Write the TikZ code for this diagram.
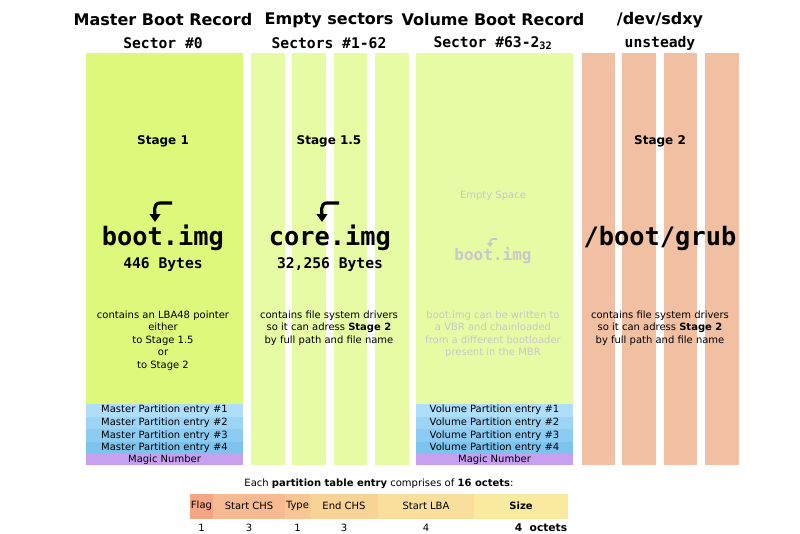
\documentclass[tikz,border=0pt]{standalone}
\usepackage{fontspec}
\setmainfont{DejaVu Sans}
\setmonofont{DejaVu Sans Mono}
\usetikzlibrary{arrows.meta,positioning}
\definecolor{mbrgreen}{RGB}{221,248,122}
\definecolor{lightgreen}{RGB}{231,251,165}
\definecolor{stagetwo}{RGB}{241,192,162}
\definecolor{pentA}{RGB}{174,222,250}
\definecolor{pentB}{RGB}{156,212,246}
\definecolor{pentC}{RGB}{140,204,242}
\definecolor{pentD}{RGB}{124,196,238}
\definecolor{magic}{RGB}{200,160,240}
\definecolor{fadetext}{RGB}{200,200,200}
\tikzset{
  head/.style={font=\fontsize{12}{14}\selectfont\bfseries},
  sector/.style={font=\ttfamily\fontsize{11}{13}\selectfont\bfseries},
  stage/.style={font=\fontsize{9}{11}\selectfont\bfseries},
  img/.style={font=\ttfamily\fontsize{19}{23}\selectfont\bfseries},
  bytes/.style={font=\ttfamily\fontsize{11}{13}\selectfont\bfseries},
  desc/.style={font=\fontsize{7.5}{9.4}\selectfont, align=center},
  entry/.style={font=\fontsize{7.5}{9}\selectfont},
  field/.style={font=\fontsize{7.5}{9}\selectfont},
  hook/.style={line width=2.4pt, -{Triangle[length=6pt,width=8pt]}},
}
\begin{document}
\begin{tikzpicture}[x=0.75pt,y=-0.75pt]
  \useasboundingbox (0,0) rectangle (800,533);
  % columns
  \fill[mbrgreen] (86,53) rectangle (243,404);
  \foreach \xa/\xb in {251/285,292/326,334/367,375/409}
    \fill[lightgreen] (\xa,53) rectangle (\xb,465);
  \fill[lightgreen] (416,53) rectangle (573,404);
  \foreach \xa/\xb in {582/615,622/656,664/697,705/739}
    \fill[stagetwo] (\xa,53) rectangle (\xb,465);
  % partition entries
  \foreach \x/\name in {86/Master,416/Volume}{
    \fill[pentA] (\x,404) rectangle ++(157,12.5);
    \fill[pentB] (\x,416.5) rectangle ++(157,12.5);
    \fill[pentC] (\x,429) rectangle ++(157,12.5);
    \fill[pentD] (\x,441.5) rectangle ++(157,12.5);
    \fill[magic] (\x,454) rectangle ++(157,11);
    \foreach \i/\y in {1/410,2/423,3/435.5,4/448}
      \node[entry] at (\x+78.5,\y) {\name\ Partition entry \#\i};
    \node[entry] at (\x+78.5,459.5) {Magic Number};
  }
  % headers
  \node[head] (mbr) at (163,20) {Master Boot Record};
  \node[sector] (mbrs) at (163,43) {Sector \#0};
  \node[head] (emp) at (329,20) {Empty sectors};
  \node[sector] (emps) at (329,43) {Sectors \#1-62};
  \node[head] (vbr) at (493,20) {Volume Boot Record};
  \node[sector] (vbrs) at (493,43) {Sector \#63-2\textsubscript{32}};
  \node[head] (dev) at (660,20) {/dev/sdxy};
  \node[sector] (devs) at (660,43) {unsteady};
  % stage 1
  \node[stage] (s1) at (163,141) {Stage 1};
  \node[img] (bootimg) at (163,238) {boot.img};
  \node[bytes] (bootb) at (163,265) {446 Bytes};
  \node[desc, anchor=north] (bootd) at (163,306) {contains an LBA48 pointer\\either\\to Stage 1.5\\or\\to Stage 2};
  \draw[hook] (172,203) -- (160,203) to[out=180,in=90] (155,222);
  % stage 1.5
  \node[stage] (s15) at (329,141) {Stage 1.5};
  \node[img] (coreimg) at (330,238) {core.img};
  \node[bytes] (coreb) at (330,265) {32,256 Bytes};
  \node[desc, anchor=north] (cored) at (329,306) {contains file system drivers\\so it can adress \textbf{Stage 2}\\by full path and file name};
  \draw[hook] (339,203) -- (327,203) to[out=180,in=90] (322,222);
  % vbr
  \node[desc, text=fadetext] (empty) at (493,196) {Empty Space};
  \node[font=\ttfamily\fontsize{12}{14}\selectfont\bfseries, text=fadetext] (vbrimg) at (493,256) {boot.img};
  \draw[fadetext, line width=1.3pt, -{Triangle[length=3pt,width=4.5pt]}] (497,239) -- (493,239) to[out=180,in=90] (490,247);
  \node[desc, text=fadetext, anchor=north] (vbrd) at (493,306) {boot.img can be written to\\a VBR and chainloaded\\from a different bootloader\\present in the MBR};
  % stage 2
  \node[stage] (s2) at (660,141) {Stage 2};
  \node[img] (grub) at (660,238) {/boot/grub};
  \node[desc, anchor=north] (grubd) at (660,306) {contains file system drivers\\so it can adress \textbf{Stage 2}\\by full path and file name};
  % partition table entry
  \node[field] (cap) at (379,484) {Each \textbf{partition table entry} comprises of \textbf{16 octets}:};
  \foreach \xa/\xb/\c/\t/\n in {190/213/{rgb,255:red,246;green,166;blue,134}/Flag/1,
      213/285/{rgb,255:red,248;green,186;blue,146}/Start CHS/3,
      285/310/{rgb,255:red,248;green,198;blue,146}/Type/1,
      310/378/{rgb,255:red,249;green,210;blue,150}/End CHS/3,
      378/474/{rgb,255:red,249;green,222;blue,156}/Start LBA/4}{
    \fill[fill=\c] (\xa,494) rectangle (\xb,519);
    \node[field] at ({(\xa+\xb)/2},506) {\t};
    \node[field] at ({(\xa+\xb)/2},528) {\n};
  }
  \fill[fill={rgb,255:red,250;green,234;blue,160}] (474,494) rectangle (568,519);
  \node[field, font=\fontsize{7.5}{9}\selectfont\bfseries] (size) at (521,506) {Size};
  \node[field, font=\fontsize{8}{9}\selectfont\bfseries] (oct) at (541,528) {4\ \ octets};
\end{tikzpicture}
\end{document}
